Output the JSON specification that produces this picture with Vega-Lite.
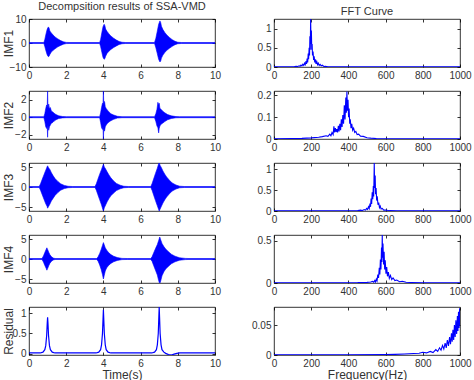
{
"$schema": "https://vega.github.io/schema/vega-lite/v6.json",
"padding": {"left": 1, "top": 0, "right": 0, "bottom": 0},
"bounds": "flush",
"columns": 2,
"spacing": {"row": 24, "column": 59},
"config": {
  "view": {"stroke": "#000", "strokeWidth": 0.8},
  "axis": {"grid": false, "domain": false, "tickSize": -3, "tickColor": "#000", "tickWidth": 0.8,
    "labelFont": "Liberation Sans", "labelFontSize": 10, "labelColor": "#333",
    "labelFlush": false, "labelOverlap": false, "labelBound": false,
    "titleFont": "Liberation Sans", "titleFontSize": 12, "titleFontWeight": "normal", "titleColor": "#333"},
  "axisY": {"titleX": -21, "titleBaseline": "middle", "labelPadding": 6},
  "axisX": {"titlePadding": 1, "labelPadding": 6},
  "title": {"font": "Liberation Sans", "fontSize": 11, "fontWeight": "normal", "color": "#333", "offset": 2}
},
"datasets": {
"imf1": [
{"t":0,"hi":0.2,"lo":-0.2},{"t":0.8,"hi":0.2,"lo":-0.2},{"t":0.85,"hi":1.5,"lo":-1.5},{"t":0.92,"hi":4,"lo":-3.5},{"t":0.98,"hi":5.8,"lo":-5},{"t":1.04,"hi":6.7,"lo":-5.7},{"t":1.08,"hi":6.2,"lo":-5.5},{"t":1.12,"hi":5,"lo":-4.8},{"t":1.2,"hi":4.2,"lo":-3.8},{"t":1.3,"hi":3.3,"lo":-3},{"t":1.4,"hi":2.5,"lo":-2.4},{"t":1.55,"hi":1.7,"lo":-1.6},{"t":1.7,"hi":1,"lo":-1},{"t":1.85,"hi":0.5,"lo":-0.5},{"t":2.0,"hi":0.25,"lo":-0.25},{"t":2.2,"hi":0.2,"lo":-0.2},
{"t":3.8,"hi":0.2,"lo":-0.2},{"t":3.85,"hi":1.5,"lo":-1.5},{"t":3.92,"hi":4.5,"lo":-4},{"t":3.98,"hi":6.8,"lo":-6},{"t":4.04,"hi":7.8,"lo":-6.8},{"t":4.08,"hi":7.2,"lo":-6.5},{"t":4.12,"hi":5.8,"lo":-5.5},{"t":4.2,"hi":4.8,"lo":-4.3},{"t":4.3,"hi":3.8,"lo":-3.4},{"t":4.4,"hi":2.9,"lo":-2.7},{"t":4.55,"hi":2,"lo":-1.9},{"t":4.7,"hi":1.2,"lo":-1.2},{"t":4.85,"hi":0.6,"lo":-0.6},{"t":5.0,"hi":0.3,"lo":-0.3},{"t":5.2,"hi":0.2,"lo":-0.2},
{"t":6.75,"hi":0.2,"lo":-0.2},{"t":6.82,"hi":2,"lo":-2},{"t":6.9,"hi":5,"lo":-4.5},{"t":6.97,"hi":7.8,"lo":-6.8},{"t":7.04,"hi":9.2,"lo":-7.9},{"t":7.08,"hi":8.5,"lo":-7.5},{"t":7.12,"hi":7,"lo":-6.3},{"t":7.2,"hi":5.6,"lo":-5},{"t":7.3,"hi":4.4,"lo":-4},{"t":7.4,"hi":3.4,"lo":-3.1},{"t":7.55,"hi":2.3,"lo":-2.2},{"t":7.7,"hi":1.4,"lo":-1.4},{"t":7.85,"hi":0.7,"lo":-0.7},{"t":8.0,"hi":0.3,"lo":-0.3},{"t":8.2,"hi":0.2,"lo":-0.2},{"t":10,"hi":0.2,"lo":-0.2}],
"imf2": [
{"t":0,"hi":0.06,"lo":-0.06},{"t":0.8,"hi":0.06,"lo":-0.06},{"t":0.85,"hi":0.4,"lo":-0.5},{"t":0.9,"hi":1.0,"lo":-1.1},{"t":0.95,"hi":1.4,"lo":-1.3},{"t":0.98,"hi":1.2,"lo":-0.9},{"t":1.0,"hi":3.0,"lo":-2.3},{"t":1.02,"hi":1.0,"lo":-1.0},{"t":1.06,"hi":1.5,"lo":-1.5},{"t":1.1,"hi":1.0,"lo":-1.1},{"t":1.15,"hi":1.1,"lo":-0.9},{"t":1.2,"hi":0.7,"lo":-0.7},{"t":1.28,"hi":0.6,"lo":-0.6},{"t":1.35,"hi":0.45,"lo":-0.45},{"t":1.45,"hi":0.3,"lo":-0.3},{"t":1.6,"hi":0.15,"lo":-0.15},{"t":1.8,"hi":0.08,"lo":-0.08},{"t":2.0,"hi":0.06,"lo":-0.06},
{"t":3.8,"hi":0.06,"lo":-0.06},{"t":3.85,"hi":0.5,"lo":-0.6},{"t":3.9,"hi":1.1,"lo":-1.2},{"t":3.95,"hi":1.6,"lo":-1.4},{"t":3.98,"hi":1.4,"lo":-1.1},{"t":4.0,"hi":3.0,"lo":-2.5},{"t":4.02,"hi":1.5,"lo":-1.3},{"t":4.06,"hi":1.8,"lo":-1.6},{"t":4.1,"hi":1.2,"lo":-1.1},{"t":4.15,"hi":1.0,"lo":-0.9},{"t":4.22,"hi":0.8,"lo":-0.7},{"t":4.3,"hi":0.6,"lo":-0.55},{"t":4.4,"hi":0.4,"lo":-0.4},{"t":4.55,"hi":0.25,"lo":-0.25},{"t":4.75,"hi":0.1,"lo":-0.1},{"t":5.0,"hi":0.06,"lo":-0.06},
{"t":6.75,"hi":0.06,"lo":-0.06},{"t":6.82,"hi":0.4,"lo":-0.5},{"t":6.88,"hi":0.9,"lo":-1.0},{"t":6.93,"hi":1.7,"lo":-1.2},{"t":6.97,"hi":1.4,"lo":-1.8},{"t":7.0,"hi":1.6,"lo":-1.3},{"t":7.04,"hi":1.0,"lo":-1.0},{"t":7.1,"hi":0.9,"lo":-0.8},{"t":7.18,"hi":0.7,"lo":-0.7},{"t":7.3,"hi":0.5,"lo":-0.5},{"t":7.45,"hi":0.3,"lo":-0.3},{"t":7.65,"hi":0.15,"lo":-0.15},{"t":7.9,"hi":0.07,"lo":-0.07},{"t":8.1,"hi":0.06,"lo":-0.06},{"t":10,"hi":0.06,"lo":-0.06}],
"imf3": [
{"t":0,"hi":0.12,"lo":-0.12},{"t":0.55,"hi":0.12,"lo":-0.12},{"t":0.62,"hi":0.8,"lo":-0.8},{"t":0.7,"hi":1.8,"lo":-1.8},{"t":0.8,"hi":3.0,"lo":-3.0},{"t":0.9,"hi":4.2,"lo":-4.2},{"t":0.97,"hi":5.0,"lo":-4.8},{"t":1.0,"hi":5.3,"lo":-5.3},{"t":1.05,"hi":4.8,"lo":-4.9},{"t":1.12,"hi":4.4,"lo":-4.3},{"t":1.2,"hi":3.6,"lo":-3.5},{"t":1.3,"hi":2.8,"lo":-2.8},{"t":1.4,"hi":2.1,"lo":-2.1},{"t":1.55,"hi":1.4,"lo":-1.4},{"t":1.7,"hi":0.8,"lo":-0.8},{"t":1.9,"hi":0.4,"lo":-0.4},{"t":2.1,"hi":0.18,"lo":-0.18},{"t":2.35,"hi":0.12,"lo":-0.12},
{"t":3.55,"hi":0.12,"lo":-0.12},{"t":3.62,"hi":0.8,"lo":-0.8},{"t":3.7,"hi":1.9,"lo":-1.9},{"t":3.8,"hi":3.2,"lo":-3.2},{"t":3.9,"hi":4.4,"lo":-4.5},{"t":3.97,"hi":5.3,"lo":-5.6},{"t":4.0,"hi":5.7,"lo":-6.0},{"t":4.05,"hi":5.0,"lo":-5.2},{"t":4.12,"hi":4.5,"lo":-4.5},{"t":4.2,"hi":3.8,"lo":-3.7},{"t":4.3,"hi":3.0,"lo":-2.9},{"t":4.4,"hi":2.3,"lo":-2.2},{"t":4.55,"hi":1.5,"lo":-1.5},{"t":4.7,"hi":0.9,"lo":-0.9},{"t":4.9,"hi":0.45,"lo":-0.45},{"t":5.1,"hi":0.18,"lo":-0.18},{"t":5.35,"hi":0.12,"lo":-0.12},
{"t":6.55,"hi":0.12,"lo":-0.12},{"t":6.62,"hi":0.9,"lo":-0.9},{"t":6.7,"hi":2.0,"lo":-2.0},{"t":6.8,"hi":3.4,"lo":-3.4},{"t":6.9,"hi":4.7,"lo":-4.7},{"t":6.97,"hi":5.8,"lo":-5.6},{"t":7.0,"hi":6.0,"lo":-6.0},{"t":7.05,"hi":5.4,"lo":-5.5},{"t":7.12,"hi":4.8,"lo":-4.8},{"t":7.2,"hi":4.0,"lo":-4.0},{"t":7.3,"hi":3.2,"lo":-3.2},{"t":7.4,"hi":2.5,"lo":-2.5},{"t":7.55,"hi":1.7,"lo":-1.7},{"t":7.7,"hi":1.0,"lo":-1.0},{"t":7.9,"hi":0.5,"lo":-0.5},{"t":8.1,"hi":0.2,"lo":-0.2},{"t":8.35,"hi":0.12,"lo":-0.12},{"t":10,"hi":0.12,"lo":-0.12}],
"imf4": [
{"t":0,"hi":0.12,"lo":-0.12},{"t":0.7,"hi":0.12,"lo":-0.12},{"t":0.78,"hi":0.8,"lo":-0.8},{"t":0.85,"hi":1.6,"lo":-1.6},{"t":0.92,"hi":2.4,"lo":-2.3},{"t":0.96,"hi":2.8,"lo":-2.8},{"t":1.0,"hi":2.4,"lo":-2.4},{"t":1.06,"hi":1.7,"lo":-1.7},{"t":1.12,"hi":1.1,"lo":-1.1},{"t":1.2,"hi":0.6,"lo":-0.6},{"t":1.3,"hi":0.25,"lo":-0.25},{"t":1.4,"hi":0.12,"lo":-0.12},
{"t":3.65,"hi":0.12,"lo":-0.12},{"t":3.72,"hi":0.6,"lo":-0.6},{"t":3.8,"hi":1.4,"lo":-1.5},{"t":3.88,"hi":2.4,"lo":-2.6},{"t":3.95,"hi":3.4,"lo":-3.9},{"t":4.0,"hi":4.1,"lo":-5.0},{"t":4.04,"hi":3.6,"lo":-4.2},{"t":4.1,"hi":2.8,"lo":-3.0},{"t":4.18,"hi":2.2,"lo":-2.2},{"t":4.28,"hi":1.6,"lo":-1.6},{"t":4.4,"hi":1.1,"lo":-1.1},{"t":4.55,"hi":0.7,"lo":-0.7},{"t":4.75,"hi":0.35,"lo":-0.35},{"t":5.0,"hi":0.15,"lo":-0.15},{"t":5.3,"hi":0.12,"lo":-0.12},
{"t":6.55,"hi":0.12,"lo":-0.12},{"t":6.62,"hi":0.6,"lo":-0.6},{"t":6.7,"hi":1.5,"lo":-1.6},{"t":6.8,"hi":2.6,"lo":-2.8},{"t":6.9,"hi":3.6,"lo":-4.0},{"t":6.97,"hi":4.6,"lo":-5.4},{"t":7.03,"hi":5.5,"lo":-6.2},{"t":7.08,"hi":4.8,"lo":-5.5},{"t":7.15,"hi":3.9,"lo":-4.2},{"t":7.25,"hi":3.1,"lo":-3.2},{"t":7.35,"hi":2.5,"lo":-2.5},{"t":7.5,"hi":1.8,"lo":-1.8},{"t":7.65,"hi":1.2,"lo":-1.2},{"t":7.85,"hi":0.7,"lo":-0.7},{"t":8.1,"hi":0.3,"lo":-0.3},{"t":8.4,"hi":0.15,"lo":-0.15},{"t":8.6,"hi":0.12,"lo":-0.12},{"t":10,"hi":0.12,"lo":-0.12}],
"res": [
{"t":0,"v":0.02},{"t":0.6,"v":0.02},{"t":0.75,"v":0.04},{"t":0.85,"v":0.1},{"t":0.9,"v":0.2},{"t":0.95,"v":0.45},{"t":0.98,"v":0.75},{"t":1.0,"v":0.9},{"t":1.02,"v":0.75},{"t":1.05,"v":0.45},{"t":1.1,"v":0.2},{"t":1.15,"v":0.1},{"t":1.25,"v":0.04},{"t":1.4,"v":0.02},
{"t":3.6,"v":0.02},{"t":3.75,"v":0.04},{"t":3.85,"v":0.1},{"t":3.9,"v":0.22},{"t":3.95,"v":0.5},{"t":3.98,"v":0.85},{"t":4.0,"v":1.08},{"t":4.02,"v":0.85},{"t":4.05,"v":0.5},{"t":4.1,"v":0.22},{"t":4.15,"v":0.1},{"t":4.25,"v":0.04},{"t":4.4,"v":0.02},
{"t":6.6,"v":0.02},{"t":6.75,"v":0.04},{"t":6.85,"v":0.1},{"t":6.9,"v":0.22},{"t":6.95,"v":0.5},{"t":6.98,"v":0.9},{"t":7.0,"v":1.15},{"t":7.02,"v":0.9},{"t":7.05,"v":0.5},{"t":7.1,"v":0.22},{"t":7.15,"v":0.1},{"t":7.25,"v":0.04},{"t":7.35,"v":0.01},{"t":7.5,"v":-0.02},{"t":7.65,"v":-0.03},{"t":7.8,"v":-0.01},{"t":7.95,"v":0.01},{"t":8.1,"v":0.02},{"t":10,"v":0.02}],
"fft1": [
{"f":0,"a":0.003},{"f":50,"a":0.004},{"f":100,"a":0.008},{"f":110,"a":0.012},{"f":120,"a":0.02},{"f":128,"a":0.015},{"f":135,"a":0.03},{"f":140,"a":0.02},{"f":145,"a":0.05},{"f":150,"a":0.03},{"f":155,"a":0.07},{"f":160,"a":0.04},{"f":164,"a":0.1},{"f":168,"a":0.06},{"f":172,"a":0.15},{"f":175,"a":0.08},{"f":178,"a":0.22},{"f":181,"a":0.12},{"f":184,"a":0.35},{"f":186,"a":0.2},{"f":189,"a":0.5},{"f":191,"a":0.3},{"f":193,"a":0.8},{"f":195,"a":0.45},{"f":197,"a":1.25},{"f":199,"a":0.6},{"f":201,"a":0.95},{"f":203,"a":0.45},{"f":205,"a":0.6},{"f":207,"a":0.3},{"f":210,"a":0.4},{"f":213,"a":0.18},{"f":216,"a":0.28},{"f":219,"a":0.12},{"f":222,"a":0.2},{"f":226,"a":0.08},{"f":230,"a":0.14},{"f":234,"a":0.06},{"f":238,"a":0.1},{"f":243,"a":0.04},{"f":248,"a":0.07},{"f":254,"a":0.03},{"f":260,"a":0.045},{"f":268,"a":0.015},{"f":276,"a":0.02},{"f":290,"a":0.008},{"f":320,"a":0.005},{"f":400,"a":0.003},{"f":500,"a":0.002},{"f":1000,"a":0.002}],
"fft2": [
{"f":0,"a":0.001},{"f":100,"a":0.002},{"f":150,"a":0.003},{"f":200,"a":0.005},{"f":240,"a":0.008},{"f":260,"a":0.011},{"f":280,"a":0.015},{"f":290,"a":0.012},{"f":300,"a":0.022},{"f":306,"a":0.015},{"f":312,"a":0.03},{"f":318,"a":0.02},{"f":322,"a":0.058},{"f":326,"a":0.03},{"f":330,"a":0.05},{"f":334,"a":0.032},{"f":338,"a":0.045},{"f":342,"a":0.03},{"f":346,"a":0.06},{"f":350,"a":0.035},{"f":354,"a":0.07},{"f":358,"a":0.04},{"f":362,"a":0.09},{"f":366,"a":0.055},{"f":370,"a":0.11},{"f":374,"a":0.07},{"f":378,"a":0.155},{"f":382,"a":0.09},{"f":386,"a":0.19},{"f":389,"a":0.12},{"f":392,"a":0.218},{"f":395,"a":0.13},{"f":398,"a":0.18},{"f":401,"a":0.1},{"f":404,"a":0.14},{"f":407,"a":0.07},{"f":410,"a":0.09},{"f":414,"a":0.05},{"f":418,"a":0.07},{"f":423,"a":0.04},{"f":428,"a":0.05},{"f":434,"a":0.03},{"f":440,"a":0.035},{"f":447,"a":0.02},{"f":455,"a":0.022},{"f":465,"a":0.013},{"f":480,"a":0.012},{"f":500,"a":0.006},{"f":520,"a":0.004},{"f":550,"a":0.002},{"f":600,"a":0.001},{"f":1000,"a":0.001}],
"fft3": [
{"f":0,"a":0.002},{"f":300,"a":0.002},{"f":420,"a":0.004},{"f":450,"a":0.01},{"f":465,"a":0.02},{"f":475,"a":0.012},{"f":485,"a":0.035},{"f":492,"a":0.02},{"f":498,"a":0.06},{"f":503,"a":0.035},{"f":508,"a":0.1},{"f":512,"a":0.06},{"f":516,"a":0.18},{"f":519,"a":0.1},{"f":522,"a":0.3},{"f":525,"a":0.17},{"f":528,"a":0.45},{"f":531,"a":0.28},{"f":534,"a":0.6},{"f":536,"a":0.35},{"f":539,"a":1.15},{"f":541,"a":0.55},{"f":544,"a":0.85},{"f":546,"a":0.4},{"f":549,"a":0.55},{"f":552,"a":0.25},{"f":555,"a":0.35},{"f":559,"a":0.15},{"f":563,"a":0.2},{"f":567,"a":0.08},{"f":571,"a":0.12},{"f":576,"a":0.05},{"f":582,"a":0.06},{"f":590,"a":0.02},{"f":600,"a":0.025},{"f":620,"a":0.008},{"f":660,"a":0.004},{"f":1000,"a":0.002}],
"fft4": [
{"f":0,"a":0.001},{"f":300,"a":0.002},{"f":450,"a":0.004},{"f":500,"a":0.008},{"f":520,"a":0.012},{"f":530,"a":0.02},{"f":536,"a":0.01},{"f":542,"a":0.03},{"f":546,"a":0.012},{"f":550,"a":0.045},{"f":554,"a":0.025},{"f":558,"a":0.1},{"f":562,"a":0.06},{"f":566,"a":0.18},{"f":569,"a":0.1},{"f":572,"a":0.28},{"f":575,"a":0.16},{"f":578,"a":0.42},{"f":580,"a":0.25},{"f":582,"a":0.57},{"f":584,"a":0.3},{"f":586,"a":0.47},{"f":589,"a":0.22},{"f":592,"a":0.37},{"f":595,"a":0.16},{"f":598,"a":0.27},{"f":602,"a":0.11},{"f":606,"a":0.19},{"f":610,"a":0.08},{"f":615,"a":0.13},{"f":620,"a":0.055},{"f":626,"a":0.09},{"f":633,"a":0.04},{"f":640,"a":0.06},{"f":650,"a":0.028},{"f":660,"a":0.035},{"f":675,"a":0.015},{"f":690,"a":0.02},{"f":710,"a":0.008},{"f":740,"a":0.006},{"f":800,"a":0.003},{"f":1000,"a":0.002}],
"fft5": [
{"f":0,"a":0.0003},{"f":400,"a":0.0003},{"f":600,"a":0.0006},{"f":650,"a":0.001},{"f":700,"a":0.0016},{"f":750,"a":0.0025},{"f":780,"a":0.003},{"f":800,"a":0.0045},{"f":820,"a":0.0035},{"f":840,"a":0.006},{"f":855,"a":0.004},{"f":870,"a":0.009},{"f":880,"a":0.006},{"f":890,"a":0.012},{"f":898,"a":0.008},{"f":906,"a":0.016},{"f":913,"a":0.01},{"f":920,"a":0.02},{"f":926,"a":0.012},{"f":932,"a":0.025},{"f":938,"a":0.015},{"f":944,"a":0.03},{"f":949,"a":0.018},{"f":954,"a":0.036},{"f":958,"a":0.022},{"f":962,"a":0.042},{"f":966,"a":0.025},{"f":970,"a":0.05},{"f":974,"a":0.03},{"f":978,"a":0.058},{"f":982,"a":0.035},{"f":986,"a":0.065},{"f":989,"a":0.04},{"f":992,"a":0.072},{"f":995,"a":0.045},{"f":998,"a":0.078},{"f":1000,"a":0.05}]
},
"concat": [
{"width":186,"height":48,"title":"Decompsition results of SSA-VMD","data":{"name":"imf1"},"resolve":{"axis":{"x":"independent","y":"independent"}},
 "layer":[
 {"mark":{"type":"area","color":"#0000ff","stroke":"#0000ff","strokeWidth":0.6,"clip":true},
 "encoding":{"x":{"field":"t","type":"quantitative","scale":{"domain":[0,10],"nice":false},"axis":{"values":[0,2,4,6,8,10],"title":null}},
  "y":{"field":"hi","type":"quantitative","scale":{"domain":[-10,10],"nice":false},"axis":{"values":[-10,0,10],"title":"IMF1"}},
  "y2":{"field":"lo"}}},
 {"mark":{"type":"line","opacity":0},
 "encoding":{"x":{"field":"t","type":"quantitative","axis":{"orient":"top","labels":false,"values":[0,2,4,6,8,10],"title":null}},
  "y":{"field":"hi","type":"quantitative","axis":{"orient":"right","labels":false,"values":[-10,0,10],"title":null}}}}]},
{"width":186,"height":48,"title":"FFT Curve","data":{"name":"fft1"},"resolve":{"axis":{"x":"independent","y":"independent"}},
 "layer":[
 {"mark":{"type":"line","color":"#0000ff","strokeWidth":1.1,"clip":true},
 "encoding":{"x":{"field":"f","type":"quantitative","scale":{"domain":[0,1000],"nice":false},"axis":{"values":[0,200,400,600,800,1000],"format":"d","title":null}},
  "y":{"field":"a","type":"quantitative","scale":{"domain":[0,1.25],"nice":false},"axis":{"values":[0,0.5,1],"format":"~g","title":null}}}},
 {"mark":{"type":"line","opacity":0},
 "encoding":{"x":{"field":"f","type":"quantitative","axis":{"orient":"top","labels":false,"values":[0,200,400,600,800,1000],"title":null}},
  "y":{"field":"a","type":"quantitative","axis":{"orient":"right","labels":false,"values":[0,0.5,1],"title":null}}}}]},
{"width":186,"height":48,"data":{"name":"imf2"},"resolve":{"axis":{"x":"independent","y":"independent"}},
 "layer":[
 {"mark":{"type":"area","color":"#0000ff","stroke":"#0000ff","strokeWidth":0.6,"clip":true},
 "encoding":{"x":{"field":"t","type":"quantitative","scale":{"domain":[0,10],"nice":false},"axis":{"values":[0,2,4,6,8,10],"title":null}},
  "y":{"field":"hi","type":"quantitative","scale":{"domain":[-2.5,3],"nice":false,"zero":false},"axis":{"values":[-2,0,2],"title":"IMF2"}},
  "y2":{"field":"lo"}}},
 {"mark":{"type":"line","opacity":0},
 "encoding":{"x":{"field":"t","type":"quantitative","axis":{"orient":"top","labels":false,"values":[0,2,4,6,8,10],"title":null}},
  "y":{"field":"hi","type":"quantitative","axis":{"orient":"right","labels":false,"values":[-2,0,2],"title":null}}}}]},
{"width":186,"height":48,"data":{"name":"fft2"},"resolve":{"axis":{"x":"independent","y":"independent"}},
 "layer":[
 {"mark":{"type":"line","color":"#0000ff","strokeWidth":1.1,"clip":true},
 "encoding":{"x":{"field":"f","type":"quantitative","scale":{"domain":[0,1000],"nice":false},"axis":{"values":[0,200,400,600,800,1000],"format":"d","title":null}},
  "y":{"field":"a","type":"quantitative","scale":{"domain":[0,0.22],"nice":false},"axis":{"values":[0,0.1,0.2],"format":"~g","title":null}}}},
 {"mark":{"type":"line","opacity":0},
 "encoding":{"x":{"field":"f","type":"quantitative","axis":{"orient":"top","labels":false,"values":[0,200,400,600,800,1000],"title":null}},
  "y":{"field":"a","type":"quantitative","axis":{"orient":"right","labels":false,"values":[0,0.1,0.2],"title":null}}}}]},
{"width":186,"height":48,"data":{"name":"imf3"},"resolve":{"axis":{"x":"independent","y":"independent"}},
 "layer":[
 {"mark":{"type":"area","color":"#0000ff","stroke":"#0000ff","strokeWidth":0.6,"clip":true},
 "encoding":{"x":{"field":"t","type":"quantitative","scale":{"domain":[0,10],"nice":false},"axis":{"values":[0,2,4,6,8,10],"title":null}},
  "y":{"field":"hi","type":"quantitative","scale":{"domain":[-6,6],"nice":false},"axis":{"values":[-5,0,5],"title":"IMF3"}},
  "y2":{"field":"lo"}}},
 {"mark":{"type":"line","opacity":0},
 "encoding":{"x":{"field":"t","type":"quantitative","axis":{"orient":"top","labels":false,"values":[0,2,4,6,8,10],"title":null}},
  "y":{"field":"hi","type":"quantitative","axis":{"orient":"right","labels":false,"values":[-5,0,5],"title":null}}}}]},
{"width":186,"height":48,"data":{"name":"fft3"},"resolve":{"axis":{"x":"independent","y":"independent"}},
 "layer":[
 {"mark":{"type":"line","color":"#0000ff","strokeWidth":1.1,"clip":true},
 "encoding":{"x":{"field":"f","type":"quantitative","scale":{"domain":[0,1000],"nice":false},"axis":{"values":[0,200,400,600,800,1000],"format":"d","title":null}},
  "y":{"field":"a","type":"quantitative","scale":{"domain":[0,1.15],"nice":false},"axis":{"values":[0,0.5,1],"format":"~g","title":null}}}},
 {"mark":{"type":"line","opacity":0},
 "encoding":{"x":{"field":"f","type":"quantitative","axis":{"orient":"top","labels":false,"values":[0,200,400,600,800,1000],"title":null}},
  "y":{"field":"a","type":"quantitative","axis":{"orient":"right","labels":false,"values":[0,0.5,1],"title":null}}}}]},
{"width":186,"height":48,"data":{"name":"imf4"},"resolve":{"axis":{"x":"independent","y":"independent"}},
 "layer":[
 {"mark":{"type":"area","color":"#0000ff","stroke":"#0000ff","strokeWidth":0.6,"clip":true},
 "encoding":{"x":{"field":"t","type":"quantitative","scale":{"domain":[0,10],"nice":false},"axis":{"values":[0,2,4,6,8,10],"title":null}},
  "y":{"field":"hi","type":"quantitative","scale":{"domain":[-6,6],"nice":false},"axis":{"values":[-5,0,5],"title":"IMF4"}},
  "y2":{"field":"lo"}}},
 {"mark":{"type":"line","opacity":0},
 "encoding":{"x":{"field":"t","type":"quantitative","axis":{"orient":"top","labels":false,"values":[0,2,4,6,8,10],"title":null}},
  "y":{"field":"hi","type":"quantitative","axis":{"orient":"right","labels":false,"values":[-5,0,5],"title":null}}}}]},
{"width":186,"height":48,"data":{"name":"fft4"},"resolve":{"axis":{"x":"independent","y":"independent"}},
 "layer":[
 {"mark":{"type":"line","color":"#0000ff","strokeWidth":1.1,"clip":true},
 "encoding":{"x":{"field":"f","type":"quantitative","scale":{"domain":[0,1000],"nice":false},"axis":{"values":[0,200,400,600,800,1000],"format":"d","title":null}},
  "y":{"field":"a","type":"quantitative","scale":{"domain":[0,0.57],"nice":false},"axis":{"values":[0,0.5],"format":"~g","title":null}}}},
 {"mark":{"type":"line","opacity":0},
 "encoding":{"x":{"field":"f","type":"quantitative","axis":{"orient":"top","labels":false,"values":[0,200,400,600,800,1000],"title":null}},
  "y":{"field":"a","type":"quantitative","axis":{"orient":"right","labels":false,"values":[0,0.5],"title":null}}}}]},
{"width":186,"height":48,"data":{"name":"res"},"resolve":{"axis":{"x":"independent","y":"independent"}},
 "layer":[
 {"mark":{"type":"line","color":"#0000ff","strokeWidth":1.2,"clip":true},
 "encoding":{"x":{"field":"t","type":"quantitative","scale":{"domain":[0,10],"nice":false},"axis":{"values":[0,2,4,6,8,10],"title":"Time(s)"}},
  "y":{"field":"v","type":"quantitative","scale":{"domain":[-0.03,1.15],"nice":false,"zero":false},"axis":{"values":[0,0.5,1],"format":"~g","title":"Residual"}}}},
 {"mark":{"type":"line","opacity":0},
 "encoding":{"x":{"field":"t","type":"quantitative","axis":{"orient":"top","labels":false,"values":[0,2,4,6,8,10],"title":null}},
  "y":{"field":"v","type":"quantitative","axis":{"orient":"right","labels":false,"values":[0,0.5,1],"title":null}}}}]},
{"width":186,"height":48,"data":{"name":"fft5"},"resolve":{"axis":{"x":"independent","y":"independent"}},
 "layer":[
 {"mark":{"type":"line","color":"#0000ff","strokeWidth":1.1,"clip":true},
 "encoding":{"x":{"field":"f","type":"quantitative","scale":{"domain":[0,1000],"nice":false},"axis":{"values":[0,200,400,600,800,1000],"format":"d","title":"Frequency(Hz)"}},
  "y":{"field":"a","type":"quantitative","scale":{"domain":[0,0.08],"nice":false},"axis":{"values":[0,0.05],"format":"~g","title":null}}}},
 {"mark":{"type":"line","opacity":0},
 "encoding":{"x":{"field":"f","type":"quantitative","axis":{"orient":"top","labels":false,"values":[0,200,400,600,800,1000],"title":null}},
  "y":{"field":"a","type":"quantitative","axis":{"orient":"right","labels":false,"values":[0,0.05],"title":null}}}}]}
]
}
